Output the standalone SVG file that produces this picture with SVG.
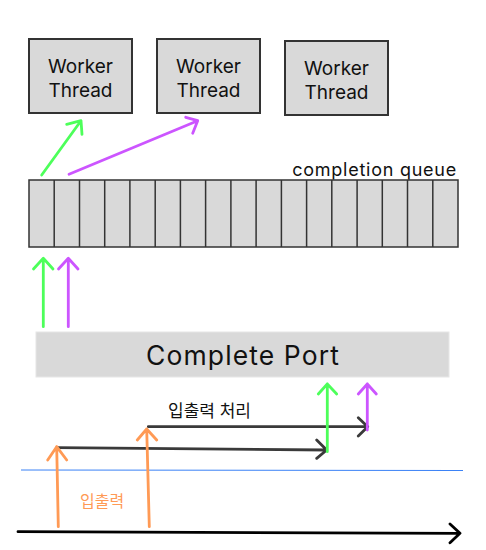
<svg xmlns="http://www.w3.org/2000/svg" width="486" height="550" viewBox="0 0 486 550">
<defs>
<style>
.box{fill:#d9d9d9;stroke:#333;stroke-width:2}
.cell{fill:#d9d9d9;stroke:#333;stroke-width:1.5}
.t{font-family:Inter,"Noto Sans CJK KR","Noto Sans",sans-serif;fill:#111}
.a{fill:none;stroke-width:2.8;stroke-linecap:round;stroke-linejoin:round}
.g{stroke:#4dff5a}.p{stroke:#cc55ff}.o{stroke:#ff9a55}.d{stroke:#3a3a3a}.k{stroke:#000}
</style>
</defs>
<rect width="486" height="550" fill="#fff"/>
<g id="worker1"><rect class="box" x="29" y="39" width="103" height="74"/><text class="t" x="80.5" y="73" font-size="19" text-anchor="middle">Worker</text><text class="t" x="80.5" y="97" font-size="19" text-anchor="middle">Thread</text></g>
<g id="worker2"><rect class="box" x="157" y="39" width="103" height="74"/><text class="t" x="208.5" y="73" font-size="19" text-anchor="middle">Worker</text><text class="t" x="208.5" y="97" font-size="19" text-anchor="middle">Thread</text></g>
<g id="worker3"><rect class="box" x="285" y="41" width="103" height="74"/><text class="t" x="336.5" y="75" font-size="19" text-anchor="middle">Worker</text><text class="t" x="336.5" y="99" font-size="19" text-anchor="middle">Thread</text></g>
<g id="queue">
<rect class="cell" x="29" y="180" width="429" height="67"/>
<g class="cell">
<line x1="54.2" y1="180" x2="54.2" y2="247"/><line x1="79.5" y1="180" x2="79.5" y2="247"/><line x1="104.7" y1="180" x2="104.7" y2="247"/><line x1="129.9" y1="180" x2="129.9" y2="247"/><line x1="155.2" y1="180" x2="155.2" y2="247"/><line x1="180.4" y1="180" x2="180.4" y2="247"/><line x1="205.6" y1="180" x2="205.6" y2="247"/><line x1="230.9" y1="180" x2="230.9" y2="247"/><line x1="256.1" y1="180" x2="256.1" y2="247"/><line x1="281.4" y1="180" x2="281.4" y2="247"/><line x1="306.6" y1="180" x2="306.6" y2="247"/><line x1="331.8" y1="180" x2="331.8" y2="247"/><line x1="357.1" y1="180" x2="357.1" y2="247"/><line x1="382.3" y1="180" x2="382.3" y2="247"/><line x1="407.5" y1="180" x2="407.5" y2="247"/><line x1="432.8" y1="180" x2="432.8" y2="247"/>
</g>
<text class="t" x="457" y="175.5" font-size="18" letter-spacing="0.75" text-anchor="end">completion queue</text>
</g>
<g id="port"><rect x="36" y="332" width="413" height="45" fill="#d9d9d9" stroke="#e6e6e6" stroke-width="1"/><text class="t" x="243" y="364.5" font-size="26.5" letter-spacing="1.1" text-anchor="middle">Complete Port</text></g>
<g id="labels">
<text class="t" x="168" y="417" font-size="17">입출력 처리</text>
<text class="t" x="80" y="506.5" font-size="16" style="fill:#ff9a55">입출력</text>
</g>
<line id="baseline" x1="21" y1="470" x2="463" y2="470.5" stroke="#3b82f6" stroke-width="1.2"/>
<g id="connectors">
<path class="a g" d="M41.7 175 L81 120.7 M66.7 124.3 L81 120.7 L82 134.3"/>
<path class="a p" d="M69 174.3 L197.7 120.7 M185.7 117.3 L197.7 120.7 L192.7 133.3"/>
<path class="a g" d="M43.3 326.7 V258.3 M33.5 269 L43.3 258.3 L53 269"/>
<path class="a p" d="M68.3 326.7 V258.3 M58.5 269 L68.3 258.3 L78 269"/>
<path class="a d" d="M56.7 447.7 L326.7 450 M316.7 440 L326.7 450 L316.7 458.3"/>
<path class="a d" d="M148.3 426.7 L367.7 426.7 M358.3 417.7 L367.7 426.7 L358.3 436"/>
<path class="a g" d="M327.3 451.7 V384 M318.3 394 L327.3 384 L336.7 394"/>
<path class="a p" d="M367.3 430 V384 M358.3 394 L367.3 384 L376.3 394"/>
<path class="a o" d="M58.3 526.7 L56.7 446.7 M47.7 460 L56.7 446.7 L66.7 460"/>
<path class="a o" d="M149.3 526.7 L146.7 429 M137.3 440 L146.7 429 L156.7 440"/>
<path class="a k" d="M18 531.7 L460 533.3 M450 524 L460 533.3 L450 542.7"/>
</g>
</svg>
